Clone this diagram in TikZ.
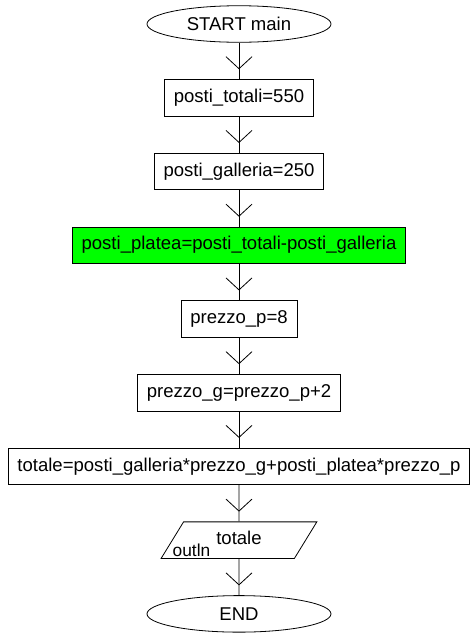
\documentclass[tikz,border=0pt]{standalone}
\usepackage{fontspec}
\setmainfont{Liberation Sans}
\usetikzlibrary{arrows.meta, calc, positioning, decorations.markings, shapes.geometric}
\definecolor{gruen}{HTML}{00FF00}

\begin{document}
\begin{tikzpicture}[
        base/.style={draw, line width=0.6pt, minimum height=27.4pt, inner xsep=7pt,
                     inner ysep=3pt, font=\fontsize{13.9}{16}\selectfont},
        term/.style={base, ellipse, minimum width=138pt},
        box/.style={base, rectangle},
        io/.style={base, trapezium, trapezium left angle=63, trapezium right angle=117,
                   trapezium stretches=true, minimum width=117pt},
        arr/.style={line width=0.6pt, postaction={decorate},
                    decoration={markings, mark=at position 0.73 with
                      {\arrow{Straight Barb[length=9pt, width=19.5pt, line width=0.6pt]}}}},
        node distance=27.3pt
      ]
      \useasboundingbox (-179.25pt,18pt) rectangle (176.25pt,-462pt);
      % ── Start ──
      \node[term]                          (start) {START main};
      % ── Zuweisungen ──
      \node[box, below=of start]           (tot)   {posti\_totali=550};
      \node[box, below=of tot]             (gal)   {posti\_galleria=250};
      \node[box, fill=gruen, below=of gal] (pla)   {posti\_platea=posti\_totali-posti\_galleria};
      \node[box, below=of pla]             (pp)    {prezzo\_p=8};
      \node[box, below=of pp]              (pg)    {prezzo\_g=prezzo\_p+2};
      \node[box, below=of pg]              (sum)   {totale=posti\_galleria*prezzo\_g+posti\_platea*prezzo\_p};
      % ── Ausgabe ──
      \node[io, below=of sum]              (out)   {\raisebox{3pt}{totale}};
      \node[anchor=base west, inner sep=0pt, font=\fontsize{13}{15}\selectfont]
        at ($(out.bottom left corner)+(9pt,1.5pt)$) (outlbl) {outln};
      % ── Ende ──
      \node[term, below=of out]            (end)   {END};

      \foreach \a/\b in {start/tot, tot/gal, gal/pla, pla/pp, pp/pg, pg/sum, sum/out, out/end}
        \draw[arr] (\a) -- (\b);
    \end{tikzpicture}
\end{document}
